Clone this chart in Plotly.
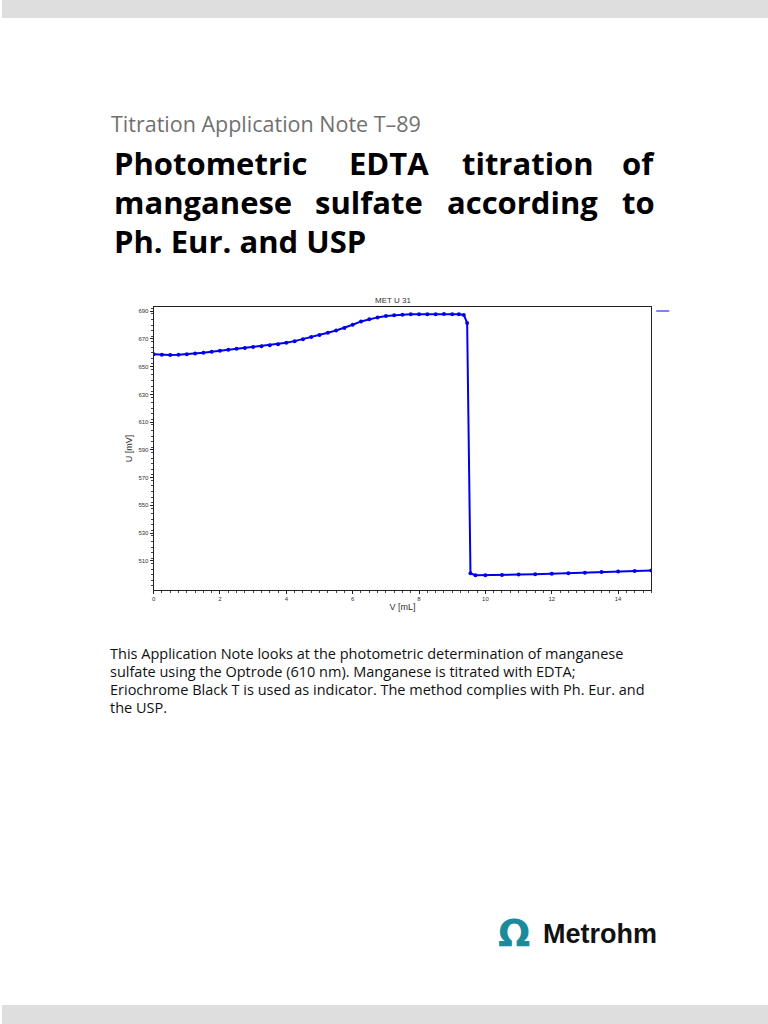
import plotly.graph_objects as go

# titration curve
volume_ml = [0.0, 0.25, 0.5, 0.75, 1.0, 1.25, 1.5, 1.75, 2.0, 2.25, 2.5, 2.75, 3.0, 3.25,
             3.5, 3.75, 4.0, 4.25, 4.5, 4.75, 5.0, 5.25, 5.5, 5.75, 6.0, 6.25, 6.5, 6.75,
             7.0, 7.25, 7.5, 7.75, 8.0, 8.25, 8.5, 8.75, 9.0, 9.2, 9.35, 9.45,
             9.55, 9.7, 10.0, 10.5, 11.0, 11.5, 12.0, 12.5, 13.0, 13.5, 14.0, 14.5, 15.0]
potential_mv = [659.0, 658.5, 658.4, 658.6, 659.0, 659.5, 660.1, 660.8, 661.5, 662.2, 662.9, 663.5,
                664.1, 664.7, 665.4, 666.2, 667.2, 668.4, 669.8, 671.3, 672.8, 674.4, 676.1, 677.9,
                680.2, 682.6, 684.1, 685.5, 686.5, 687.1, 687.5, 687.7, 687.8, 687.8, 687.8, 687.9,
                687.8, 687.7, 687.3, 681.5,
                501.0, 499.6, 499.6, 499.8, 500.1, 500.4, 500.8, 501.1, 501.5, 501.9, 502.3, 502.7, 503.0]
y_ticks = [510, 530, 550, 570, 590, 610, 630, 650, 670, 690]
x_ticks = [0, 2, 4, 6, 8, 10, 12, 14]

title_lines = [["Photometric", "EDTA", "titration", "of"],
               ["manganese", "sulfate", "according", "to"],
               ["Ph. Eur. and USP"]]
title_word_x = [[110, 346, 459, 657], [110, 312, 444, 657], [110]]
body_lines = [
    "This Application Note looks at the photometric determination of manganese",
    "sulfate using the Optrode (610 nm). Manganese is titrated with EDTA;",
    "Eriochrome Black T is used as indicator. The method complies with Ph. Eur. and",
    "the USP.",
]

W, H = 768, 1024


def px(x):
    return x / W


def py(y):
    return 1 - y / H


fig = go.Figure()
fig.add_trace(go.Scatter(
    x=volume_ml, y=potential_mv, mode="lines+markers",
    line=dict(color="#0000ee", width=2),
    marker=dict(color="#0000ee", size=4),
    showlegend=False,
))

axis_common = dict(showgrid=False, zeroline=False, showline=True, linecolor="#222",
                   linewidth=1, ticks="outside", ticklen=3, tickcolor="#222",
                   tickfont=dict(family="Liberation Sans", size=6, color="#333"),
                   minor=dict(ticks="outside", ticklen=2, tickcolor="#444"),
                   mirror=True)
fig.update_xaxes(range=[0, 15], tickvals=x_ticks, domain=[px(152), px(651)],
                 title=dict(text="V [mL]", font=dict(size=9, family="Liberation Sans", color="#333"),
                            standoff=2),
                 minor_dtick=0.25, **axis_common)
fig.update_yaxes(range=[489, 693], tickvals=y_ticks, domain=[py(590), py(307)],
                 title=dict(text="U [mV]", font=dict(size=9, family="Liberation Sans", color="#333"),
                            standoff=4),
                 minor_dtick=4, **axis_common)

shapes = [
    dict(type="rect", xref="paper", yref="paper", x0=0, x1=1, y0=py(18), y1=1,
         fillcolor="#dedede", line_width=0, layer="below"),
    dict(type="rect", xref="paper", yref="paper", x0=0, x1=1, y0=0, y1=py(1005),
         fillcolor="#dedede", line_width=0, layer="below"),
    dict(type="line", xref="paper", yref="paper", x0=px(656), x1=px(669), y0=py(311), y1=py(311),
         line=dict(color="#0000ee", width=1)),
]

fonts = "Open Sans, Noto Sans, sans-serif"
annotations = [
    dict(text="Titration Application Note T–89", x=px(107), y=py(123), xanchor="left", yanchor="middle",
         font=dict(size=21.5, color="#707070", family=fonts)),
    dict(text="MET U 31", x=px(392), y=py(300), xanchor="center", yanchor="middle",
         font=dict(size=8, color="#333", family="Liberation Sans")),
    dict(text="<b>Ω</b>", x=px(513), y=py(933), xanchor="center", yanchor="middle",
         font=dict(size=38, color="#1b8b9c", family="DejaVu Sans")),
    dict(text="<b>Metrohm</b>", x=px(540), y=py(934), xanchor="left", yanchor="middle",
         font=dict(size=27, color="#111", family="Liberation Sans Narrow, Liberation Sans")),
]
for i, words in enumerate(title_lines):
    for j, (w, xx) in enumerate(zip(words, title_word_x[i])):
        anchor = "right" if (j == 3) else "left"
        annotations.append(dict(text=f"<b>{w}</b>", x=px(xx), y=py(163 + 39 * i), xanchor=anchor,
                                yanchor="middle", font=dict(size=31, color="#000", family=fonts)))
for i, line in enumerate(body_lines):
    annotations.append(dict(text=line, x=px(106), y=py(653 + 18 * i), xanchor="left", yanchor="middle",
                            font=dict(size=14.5, color="#111", family=fonts)))
for a in annotations:
    a.update(xref="paper", yref="paper", showarrow=False)

fig.update_layout(width=W, height=H, margin=dict(l=0, r=0, t=0, b=0),
                  paper_bgcolor="white", plot_bgcolor="white",
                  shapes=shapes, annotations=annotations)
fig.add_trace(go.Scatter(x=[15.5], y=[690.5], mode="markers", cliponaxis=False,
                         marker=dict(color="#0000ee", size=4), showlegend=False))
fig.write_html("out.html", config={"displayModeBar": False},
               post_script="document.body.style.margin='0';")
